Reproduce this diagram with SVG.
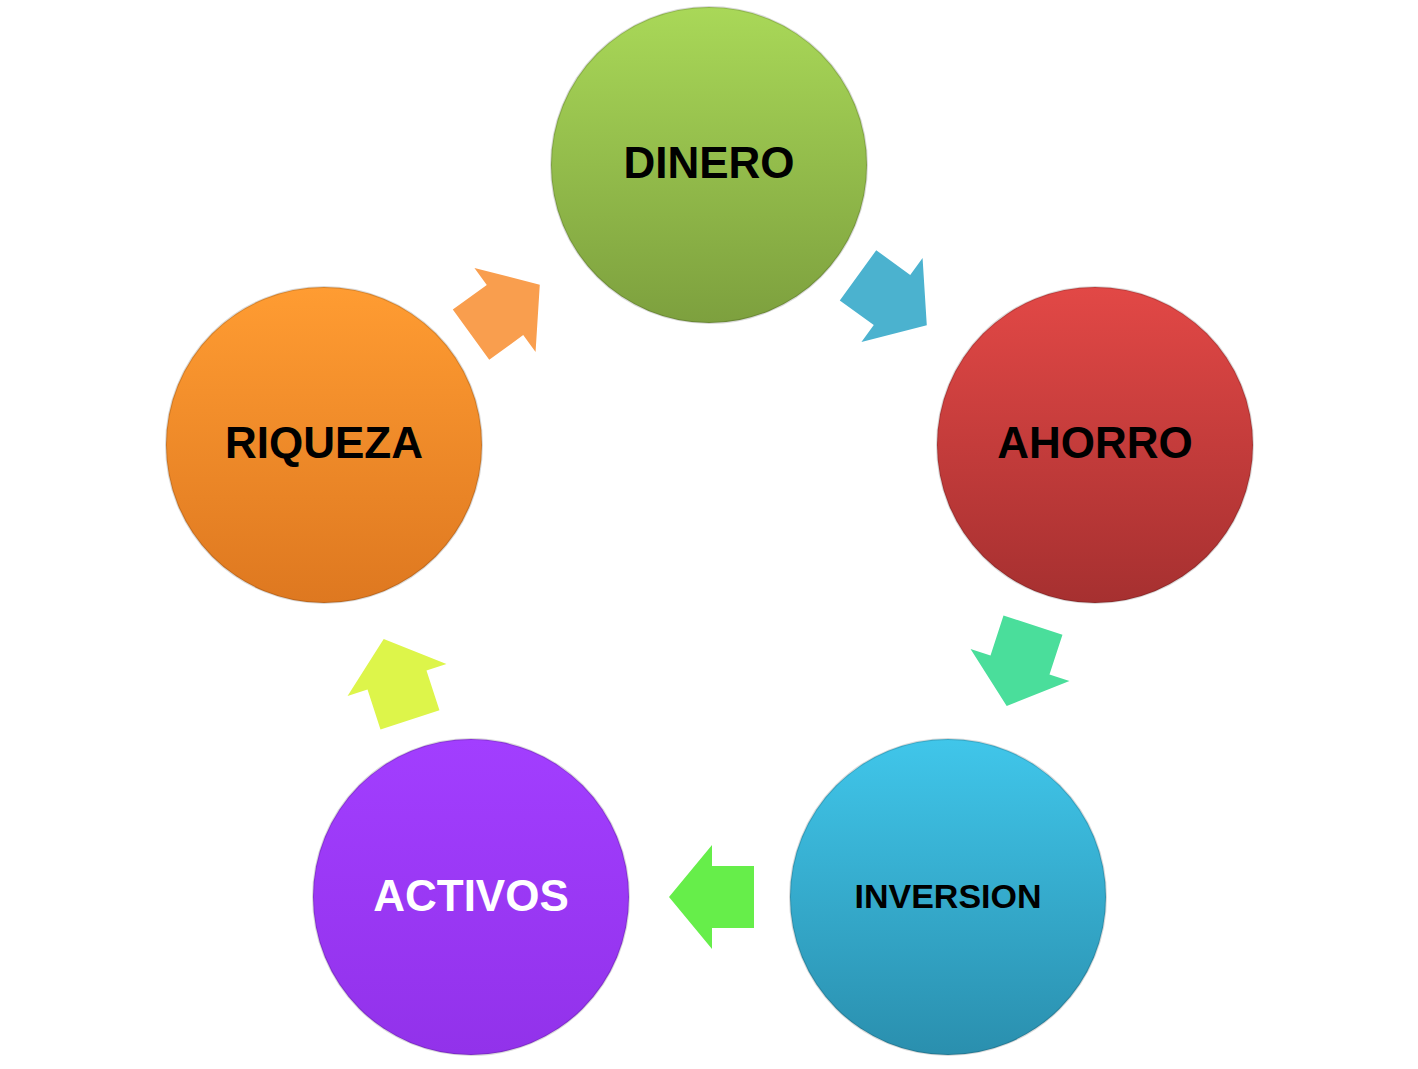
<svg xmlns="http://www.w3.org/2000/svg" width="1418" height="1069" viewBox="0 0 1418 1069">
<defs>
<linearGradient id="gG" x1="0" y1="0" x2="0" y2="1"><stop offset="0" stop-color="#A9D858"/><stop offset="1" stop-color="#7DA03E"/></linearGradient>
<linearGradient id="gR" x1="0" y1="0" x2="0" y2="1"><stop offset="0" stop-color="#E24846"/><stop offset="1" stop-color="#A63030"/></linearGradient>
<linearGradient id="gB" x1="0" y1="0" x2="0" y2="1"><stop offset="0" stop-color="#40C6EA"/><stop offset="1" stop-color="#2A8FAE"/></linearGradient>
<linearGradient id="gP" x1="0" y1="0" x2="0" y2="1"><stop offset="0" stop-color="#A23EFF"/><stop offset="1" stop-color="#9232EA"/></linearGradient>
<linearGradient id="gO" x1="0" y1="0" x2="0" y2="1"><stop offset="0" stop-color="#FF9C32"/><stop offset="1" stop-color="#DE7820"/></linearGradient>
<polygon id="arr" points="-42,-31 0,-31 0,-52 43,0 0,52 0,31 -42,31"/>
</defs>
<style>
circle{stroke:rgba(0,0,0,0.15);stroke-width:2}
text{font-family:"Liberation Sans",Arial,sans-serif;font-weight:bold;text-anchor:middle;fill:#000}
</style>
<g id="connectors">
<use href="#arr" fill="#F99E4E" transform="translate(505,310) rotate(-36)"/>
<use href="#arr" fill="#4BB2CF" transform="translate(892,300) rotate(36)"/>
<use href="#arr" fill="#4ADE9B" transform="translate(1020,665) rotate(108)"/>
<use href="#arr" fill="#66EE4A" transform="translate(712,897) rotate(180)"/>
<use href="#arr" fill="#DDF54A" transform="translate(397,680) rotate(-108)"/>
</g>
<g id="dinero"><circle cx="709" cy="165" r="158" fill="url(#gG)"/><text x="709" y="178" font-size="44">DINERO</text></g>
<g id="ahorro"><circle cx="1095" cy="445" r="158" fill="url(#gR)"/><text x="1095" y="458" font-size="44">AHORRO</text></g>
<g id="inversion"><circle cx="948" cy="897" r="158" fill="url(#gB)"/><text x="948" y="908" font-size="34">INVERSION</text></g>
<g id="activos"><circle cx="471" cy="897" r="158" fill="url(#gP)"/><text x="471" y="911" font-size="44" style="fill:#fff">ACTIVOS</text></g>
<g id="riqueza"><circle cx="324" cy="445" r="158" fill="url(#gO)"/><text x="324" y="458" font-size="44">RIQUEZA</text></g>
</svg>
